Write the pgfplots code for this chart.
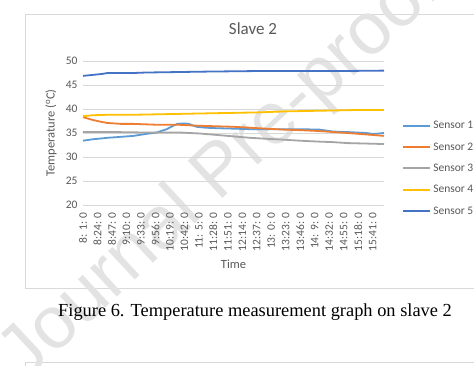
\documentclass[border=0pt]{standalone}
\usepackage{pgfplots}
\pgfplotsset{compat=1.18}
\usepackage{fontspec}
\setmainfont{Carlito}
\newfontfamily\capfont{Liberation Serif}
\newfontfamily\wmfont{Liberation Sans}
\definecolor{sA}{HTML}{5B9BD5}
\definecolor{sB}{HTML}{ED7D31}
\definecolor{sC}{HTML}{A5A5A5}
\definecolor{sD}{HTML}{FFC000}
\definecolor{sE}{HTML}{4472C4}
\definecolor{txt}{HTML}{595959}
\definecolor{grd}{HTML}{D9D9D9}
\begin{document}
\begin{tikzpicture}
\useasboundingbox (-83pt,-160pt) rectangle (391pt,205pt);
\fill[white] (-83pt,-160pt) rectangle (391pt,205pt);
% chart frame
\draw[grd, line width=0.8pt] (392pt,191pt) -- (-58pt,191pt) -- (-58pt,-83pt) -- (392pt,-83pt);
\draw[grd, line width=0.8pt] (392pt,-157pt) -- (-58pt,-157pt) -- (-58pt,-165pt);
% watermark
\node[rotate=43, text=black!11, font=\wmfont\fontsize{74}{74}\selectfont] at (139pt,32pt) {Journal Pre-proof};
\begin{axis}[
  scale only axis, width=301pt, height=144pt,
  xmin=0, xmax=478, ymin=20, ymax=50,
  ytick={20,25,...,50},
  xtick={0,23,...,460},
  xticklabels={{8: 1: 0},{8:24: 0},{8:47: 0},{9:10: 0},{9:33: 0},{9:56: 0},{10:19: 0},{10:42: 0},{11: 5: 0},{11:28: 0},{11:51: 0},{12:14: 0},{12:37: 0},{13: 0: 0},{13:23: 0},{13:46: 0},{14: 9: 0},{14:32: 0},{14:55: 0},{15:18: 0},{15:41: 0}},
  /pgf/number format/assume math mode=true,
  axis line style={draw=none},
  major tick length=0pt,
  ymajorgrids, grid style={grd, line width=0.8pt},
  tick label style={text=txt, font=\fontsize{11.5}{12}\selectfont},
  yticklabel style={xshift=-2pt},
  xticklabel style={rotate=90, anchor=east, xshift=-4pt},
  title={Slave 2},
  title style={at={(rel axis cs:0.5,1)}, anchor=center, xshift=19.5pt, yshift=26pt, text=txt, font=\fontsize{17}{18}\selectfont},
  xlabel={Time},
  xlabel style={at={(rel axis cs:0.5,0)}, anchor=center, yshift=-59pt, text=txt, font=\fontsize{12.5}{13}\selectfont},
  ylabel={Temperature (\textsuperscript{o}C)},
  ylabel style={at={([xshift=-32pt]rel axis cs:0,0.5)}, anchor=center, text=txt, font=\fontsize{12.5}{13}\selectfont},
  legend style={at={(rel axis cs:1.06,0.598)}, anchor=north west, draw=none, fill=none, text=txt, font=\fontsize{11.5}{12}\selectfont, row sep=8.5pt, inner sep=0pt},
  legend cell align=left,
  legend image code/.code={\draw[#1, line width=2pt] (0pt,0pt) -- (27pt,0pt);},
  every axis plot/.append style={line width=1.8pt, no markers},
  clip=false,
]
\addplot[sA] coordinates {(0,33.4) (16,33.7) (39,34.0) (60,34.2) (80,34.4) (100,34.8) (117,35.1) (133,35.8) (143,36.5) (150,36.9) (160,37.0) (168,36.9) (180,36.3) (195,36.1) (212,36.0) (240,35.9) (265,35.8) (300,35.8) (344,35.8) (376,35.7) (397,35.3) (420,35.2) (450,35.0) (460,34.8) (470,34.9) (478,35.0)};
\addlegendentry{Sensor 1}
\addplot[sB] coordinates {(0,38.3) (8,38.0) (16,37.7) (30,37.3) (38,37.1) (60,36.9) (80,36.9) (122,36.7) (154,36.7) (185,36.5) (212,36.4) (239,36.3) (265,36.1) (291,35.9) (320,35.7) (344,35.6) (376,35.4) (397,35.2) (420,35.0) (450,34.7) (478,34.4)};
\addlegendentry{Sensor 2}
\addplot[sC] coordinates {(0,35.2) (50,35.2) (100,35.1) (154,35.1) (185,34.9) (212,34.6) (239,34.3) (265,34.0) (291,33.8) (320,33.6) (344,33.4) (376,33.2) (397,33.1) (420,32.9) (450,32.8) (478,32.7)};
\addlegendentry{Sensor 3}
\addplot[sD] coordinates {(0,38.5) (15,38.7) (40,38.8) (80,38.8) (120,38.9) (160,39.0) (200,39.1) (240,39.2) (280,39.3) (320,39.5) (360,39.6) (400,39.7) (440,39.8) (478,39.8)};
\addlegendentry{Sensor 4}
\addplot[sE] coordinates {(0,46.9) (15,47.1) (30,47.3) (39,47.5) (80,47.5) (100,47.6) (150,47.7) (200,47.8) (270,47.9) (300,47.9) (400,47.9) (478,48.0)};
\addlegendentry{Sensor 5}
\end{axis}
\node[anchor=base, font=\capfont\fontsize{18.4}{19}\selectfont] at (172pt,-111pt) {Figure 6. Temperature measurement graph on slave 2};
\end{tikzpicture}
\end{document}
